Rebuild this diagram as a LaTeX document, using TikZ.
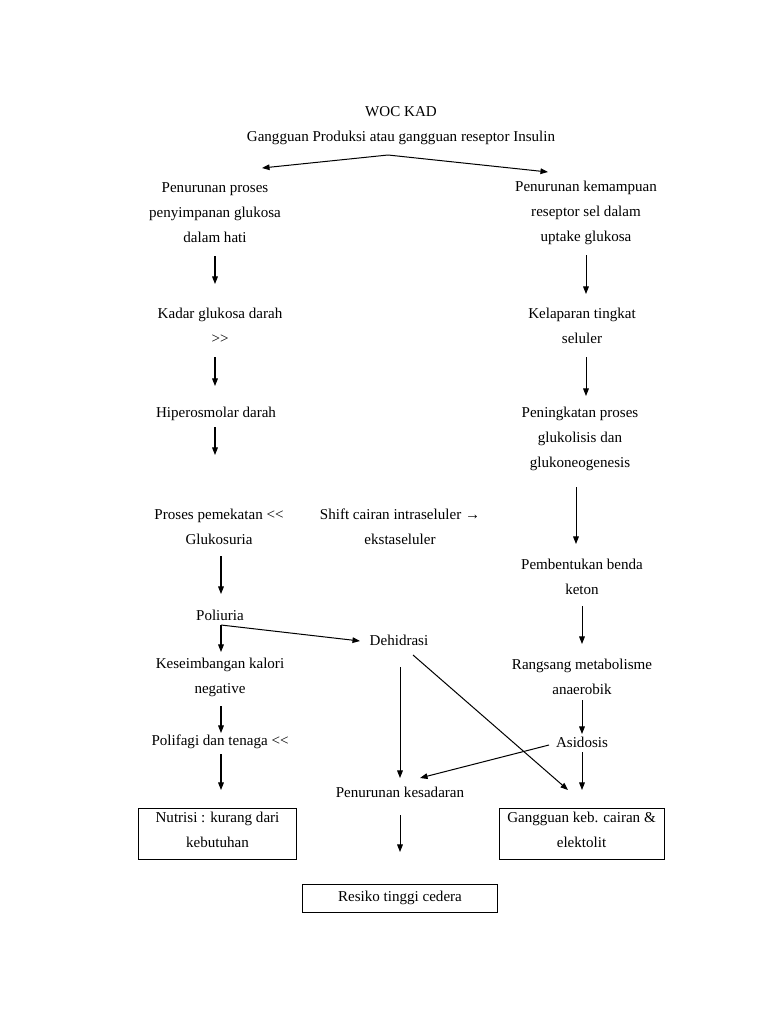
\documentclass[tikz,border=0pt]{standalone}
\usepackage{fontspec}
\setmainfont{Liberation Serif}
\usetikzlibrary{arrows.meta}
\begin{document}
\begin{tikzpicture}[x=0.797pt,y=-0.797pt,
  txt/.style={inner sep=0pt, align=center, font=\fontsize{12}{19.9}\selectfont},
  box/.style={draw, line width=0.8pt, inner sep=0pt, align=center, font=\fontsize{12}{19.9}\selectfont},
  arr/.style={-{Triangle[length=6pt,width=4.5pt]}, line width=0.8pt}]
\useasboundingbox (0,0) rectangle (768,1024);
\fill[white] (0,0) rectangle (768,1024);
% text nodes
\node[txt] (woc) at (401,112) {WOC KAD};
\node[txt] (gang) at (401,138) {Gangguan Produksi atau gangguan reseptor Insulin};
\node[txt] (l1) at (215,213) {Penurunan proses\\penyimpanan glukosa\\dalam hati};
\node[txt] (r1) at (586,213) {Penurunan kemampuan\\reseptor sel dalam\\uptake glukosa};
\node[txt] (l2) at (220,326) {Kadar glukosa darah\\>{}>};
\node[txt] (r2) at (582,326) {Kelaparan tingkat\\seluler};
\node[txt] (l3) at (216,414) {Hiperosmolar darah};
\node[txt] (r3) at (580,439) {Peningkatan proses\\glukolisis dan\\glukoneogenesis};
\node[txt] (l4) at (219,527) {Proses pemekatan <{}<\\Glukosuria};
\node[txt] (m4) at (400,527) {Shift cairan intraseluler {\large →}\\ekstaseluler};
\node[txt] (r4) at (582,577) {Pembentukan benda\\keton};
\node[txt] (poli) at (220,615) {Poliuria};
\node[txt] (dehi) at (399,640) {Dehidrasi};
\node[txt] (l6) at (220,677) {Keseimbangan kalori\\negative};
\node[txt] (r6) at (582,677) {Rangsang metabolisme\\anaerobik};
\node[txt] (l7) at (220,742) {Polifagi dan tenaga <{}<};
\node[txt] (asid) at (582,742) {Asidosis};
\node[txt] (kes) at (400,792) {Penurunan kesadaran};
% boxes
\node[box, minimum width=126.7pt, minimum height=41.4pt, text depth=6pt] (nut) at (217.5,834) {Nutrisi : kurang dari\\kebutuhan};
\node[box, minimum width=131.5pt, minimum height=41.4pt, text depth=6pt] (cair) at (581.5,834) {Gangguan keb. cairan \&\\elektolit};
\node[box, minimum width=156.2pt, minimum height=22.3pt, text depth=3pt] (res) at (400,898) {Resiko tinggi cedera};
% arrow end points
\coordinate (apex) at (388,155);
\coordinate (tl) at (262,168);
\coordinate (tr) at (548,172);
\coordinate (s1) at (215,256); \coordinate (e1) at (215,284);
\coordinate (s2) at (586,255); \coordinate (e2) at (586,294);
\coordinate (s3) at (215,357); \coordinate (e3) at (215,386);
\coordinate (s4) at (586,357); \coordinate (e4) at (586,396);
\coordinate (s5) at (215,427); \coordinate (e5) at (215,455);
\coordinate (s6) at (576,487); \coordinate (e6) at (576,544);
\coordinate (s7) at (221,556); \coordinate (e7) at (221,594);
\coordinate (s8) at (582,606); \coordinate (e8) at (582,644);
\coordinate (p0) at (221,625); \coordinate (pd) at (360,641); \coordinate (pe) at (221,652);
\coordinate (s11) at (221,706); \coordinate (e11) at (221,733);
\coordinate (s12) at (582,700); \coordinate (e12) at (582,734);
\coordinate (s13) at (221,754); \coordinate (e13) at (221,790);
\coordinate (s14) at (582,752); \coordinate (e14) at (582,790);
\coordinate (s15) at (400,667); \coordinate (e15) at (400,778);
\coordinate (s16) at (413,655); \coordinate (e16) at (568,790);
\coordinate (s17) at (549,745); \coordinate (e17) at (420,778);
\coordinate (s18) at (400,815); \coordinate (e18) at (400,852);
% arrows
\draw[arr] (apex) -- (tl);
\draw[arr] (apex) -- (tr);
\draw[arr] (s1) -- (e1);
\draw[arr] (s2) -- (e2);
\draw[arr] (s3) -- (e3);
\draw[arr] (s4) -- (e4);
\draw[arr] (s5) -- (e5);
\draw[arr] (s6) -- (e6);
\draw[arr] (s7) -- (e7);
\draw[arr] (s8) -- (e8);
\draw[arr] (p0) -- (pd);
\draw[arr] (p0) -- (pe);
\draw[arr] (s11) -- (e11);
\draw[arr] (s12) -- (e12);
\draw[arr] (s13) -- (e13);
\draw[arr] (s14) -- (e14);
\draw[arr] (s15) -- (e15);
\draw[arr] (s16) -- (e16);
\draw[arr] (s17) -- (e17);
\draw[arr] (s18) -- (e18);
\end{tikzpicture}
\end{document}
